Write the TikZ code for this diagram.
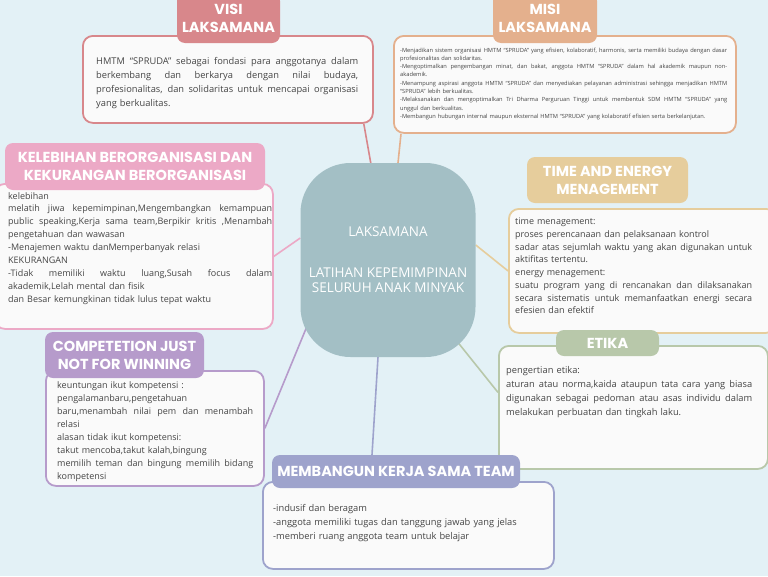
\documentclass[tikz,border=0pt]{standalone}
\usepackage{fontspec}
\setmainfont{Open Sans}
\newfontfamily\headfont{Poppins}
\usetikzlibrary{backgrounds}

\definecolor{bgblue}{HTML}{E3F1F6}
\definecolor{coreteal}{HTML}{A3BFC5}
\definecolor{visirose}{HTML}{D8878B}
\definecolor{misipeach}{HTML}{E4B08D}
\definecolor{kelepink}{HTML}{ECA9C6}
\definecolor{comppurple}{HTML}{B69BCB}
\definecolor{membblue}{HTML}{9EA3CC}
\definecolor{etikasage}{HTML}{B8C8AA}
\definecolor{timesand}{HTML}{E6CD9C}
\definecolor{cardwhite}{HTML}{FAFAFA}
\definecolor{bodygray}{HTML}{454545}

% stretched (justified) line, \cw is set by the cardtext style
\newcommand{\jl}[1]{\leavevmode\hbox to \cw{\spaceskip=\fontdimen2\font plus 1fil minus \fontdimen4\font\relax #1}}

\begin{document}
\begin{tikzpicture}[x=1pt,y=-1pt,
  headbox/.style={fill=#1,rounded corners=8pt,text=white,align=center,inner sep=0pt,
                  font=\headfont\bfseries\fontsize{14.5}{18}\selectfont},
  cardbox/.style={draw=#1,fill=cardwhite,line width=1.8pt,rounded corners=10pt,
                  anchor=north west,inner sep=0pt},
  cardtext/.style={anchor=north west,inner sep=0pt,align=left,text=bodygray,
                   text width=#1,execute at begin node={\def\cw{#1}},
                   font=\fontsize{9}{13.5}\selectfont},
  tinytext/.style={cardtext=#1,font=\fontsize{5.7}{8.3}\selectfont},
  branch/.style={draw=#1,line width=1.6pt},
]
\useasboundingbox (0,0) rectangle (768,576);
\clip (0,0) rectangle (768,576);
\begin{scope}[on background layer]
\fill[bgblue] (0,0) rectangle (768,576);
\end{scope}

% Central topic
\node[fill=coreteal,rounded corners=50pt,minimum width=175pt,minimum height=194pt,
      text=white,align=center,font=\fontsize{13.5}{15}\selectfont] (core) at (388,260)
  {LAKSAMANA\\[26pt]LATIHAN KEPEMIMPINAN\\SELURUH ANAK MINYAK};

% Cards
\node[cardbox=visirose,minimum width=290pt,minimum height=87pt] (visibox) at (82,35) {};
\node[cardtext=262pt,font=\fontsize{9.3}{14}\selectfont] (visitext) at (96,57)
  {\jl{HMTM “SPRUDA” sebagai fondasi para anggotanya dalam}\\
   \jl{berkembang dan berkarya dengan nilai budaya,}\\
   \jl{profesionalitas, dan solidaritas untuk mencapai organisasi}\\
   yang berkualitas.};

\node[cardbox=misipeach,minimum width=342pt,minimum height=97pt] (misibox) at (393,35) {};
\node[tinytext=327pt] (misitext) at (400,47.5)
  {\jl{-Menjadikan sistem organisasi HMTM “SPRUDA” yang efisien, kolaboratif, harmonis, serta memiliki budaya dengan dasar}\\
   profesionalitas dan solidaritas.\\
   \jl{-Mengoptimalkan pengembangan minat, dan bakat, anggota HMTM “SPRUDA” dalam hal akademik maupun non-}\\
   akademik.\\
   \jl{-Menampung aspirasi anggota HMTM “SPRUDA” dan menyediakan pelayanan administrasi sehingga menjadikan HMTM}\\
   “SPRUDA” lebih berkualitas.\\
   \jl{-Melaksanakan dan mengoptimalkan Tri Dharma Perguruan Tinggi untuk membentuk SDM HMTM “SPRUDA” yang}\\
   unggul dan berkualitas.\\
   -Membangun hubungan internal maupun eksternal HMTM “SPRUDA” yang kolaboratif efisien serta berkelanjutan.};

\node[cardbox=kelepink,minimum width=278pt,minimum height=145pt] (kelebox) at (-6,183) {};
\node[cardtext=264pt,font=\fontsize{9}{12.9}\selectfont] (keletext) at (8,192)
  {kelebihan\\
   \jl{melatih jiwa kepemimpinan,Mengembangkan kemampuan}\\
   \jl{public speaking,Kerja sama team,Berpikir kritis ,Menambah}\\
   pengetahuan dan wawasan\\
   -Menajemen waktu danMemperbanyak relasi\\
   KEKURANGAN\\
   \jl{-Tidak memiliki waktu luang,Susah focus dalam}\\
   akademik,Lelah mental dan fisik\\
   dan Besar kemungkinan tidak lulus tepat waktu};

\node[cardbox=comppurple,minimum width=218pt,minimum height=115pt] (compbox) at (45,370) {};
\node[cardtext=196pt,font=\fontsize{9}{13}\selectfont] (comptext) at (57,381)
  {keuntungan ikut kompetensi :\\
   pengalamanbaru,pengetahuan\\
   \jl{baru,menambah nilai pem dan menambah}\\
   relasi\\
   alasan tidak ikut kompetensi:\\
   takut mencoba,takut kalah,bingung\\
   \jl{memilih teman dan bingung memilih bidang}\\
   kompetensi};

\node[cardbox=timesand,minimum width=267pt,minimum height=124pt] (timebox) at (508,208) {};
\node[cardtext=237pt,font=\fontsize{9}{12.7}\selectfont] (timetext) at (515,218)
  {time menagement:\\
   proses perencanaan dan pelaksanaan kontrol\\
   \jl{sadar atas sejumlah waktu yang akan digunakan untuk}\\
   aktifitas tertentu.\\
   energy menagement:\\
   \jl{suatu program yang di rencanakan dan dilaksanakan}\\
   \jl{secara sistematis untuk memanfaatkan energi secara}\\
   efesien dan efektif};

\node[cardbox=etikasage,minimum width=269pt,minimum height=123pt] (etikabox) at (498,345) {};
\node[cardtext=246pt,font=\fontsize{9.3}{14}\selectfont] (etikatext) at (506,366)
  {pengertian etika:\\
   \jl{aturan atau norma,kaida ataupun tata cara yang biasa}\\
   \jl{digunakan sebagai pedoman atau asas individu dalam}\\
   melakukan perbuatan dan tingkah laku.};

\node[cardbox=membblue,minimum width=291pt,minimum height=87pt] (membbox) at (262,481) {};
\node[cardtext=270pt,font=\fontsize{9.3}{14}\selectfont] (membtext) at (273,504)
  {-indusif dan beragam\\
   -anggota memiliki tugas dan tanggung jawab yang jelas\\
   -memberi ruang anggota team untuk belajar};

% Titles
\node[headbox=visirose,minimum width=103pt,minimum height=50pt] (visihead) at (228.5,18) {VISI\\LAKSAMANA};
\node[headbox=misipeach,minimum width=104pt,minimum height=50pt] (misihead) at (545,18) {MISI\\LAKSAMANA};
\node[headbox=kelepink,minimum width=260pt,minimum height=47pt] (kelehead) at (135,166.5)
  {KELEBIHAN BERORGANISASI DAN\\KEKURANGAN BERORGANISASI};
\node[headbox=comppurple,minimum width=159pt,minimum height=46pt] (comphead) at (124.5,355)
  {COMPETETION JUST\\NOT FOR WINNING};
\node[headbox=timesand,minimum width=161pt,minimum height=46pt] (timehead) at (607.5,180)
  {TIME AND ENERGY\\MENAGEMENT};
\node[headbox=etikasage,minimum width=103pt,minimum height=26pt] (etikahead) at (607.5,343) {ETIKA};
\node[headbox=membblue,minimum width=248pt,minimum height=33pt] (membhead) at (396,471.5)
  {MEMBANGUN KERJA SAMA TEAM};

% Branches
\begin{scope}[on background layer]
\draw[branch=visirose] ([xshift=-10pt]visibox.south east) -- (core.center);
\draw[branch=misipeach] ([xshift=8pt]misibox.south west) -- (core.center);
\draw[branch=kelepink] (kelebox.east) -- ([yshift=22pt]core.west);
\draw[branch=timesand] (timebox.west) -- ([yshift=15pt]core.east);
\draw[branch=etikasage] ([yshift=15pt]etikabox.west) -- ([xshift=-30pt,yshift=30pt]core.south east);
\draw[branch=comppurple] (compbox.east) -- ([xshift=10pt,yshift=39pt]core.south west);
\draw[branch=membblue] ([xshift=-24pt]membhead.north) -- ([xshift=-10pt]core.south);
\end{scope}
\end{tikzpicture}
\end{document}
